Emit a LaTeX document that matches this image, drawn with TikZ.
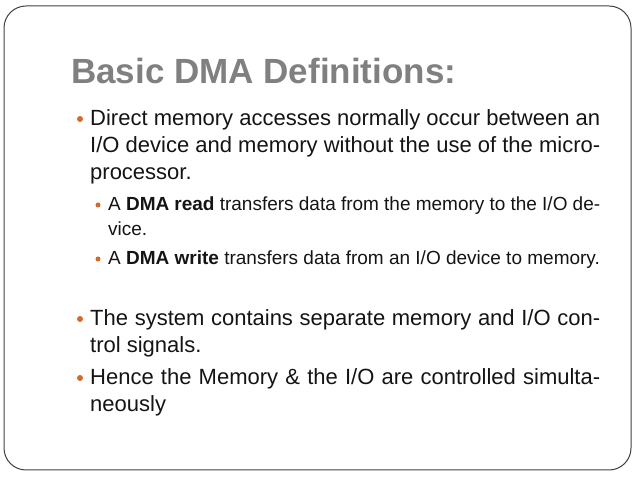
\documentclass[tikz,border=0pt]{standalone}
\usepackage{fontspec}
\setmainfont{Liberation Sans}
\definecolor{bul}{RGB}{214,104,44}
\definecolor{ttl}{RGB}{128,128,128}
\definecolor{txt}{RGB}{20,20,20}
\newcommand\nohyph{\hyphenpenalty=10000\relax\exhyphenpenalty=10000\relax}
\begin{document}
\begin{tikzpicture}[x=1pt,y=-1pt,
  mainp/.style={anchor=base west,inner sep=0pt,text width=510pt,align=justify,font=\fontsize{22}{27}\selectfont,text=txt},
  subp/.style={anchor=base west,inner sep=0pt,text width=492pt,align=justify,font=\fontsize{19}{25}\selectfont,text=txt},
  dotm/.style={circle,fill=bul,inner sep=0pt,minimum size=6pt},
  dots/.style={circle,fill=bul,inner sep=0pt,minimum size=5pt}]
\useasboundingbox (0,0) rectangle (638,478);
\draw[line width=1pt,color=black!75,rounded corners=22pt] (4,6) rectangle (631,470);
\node[anchor=base west,inner sep=0pt,text=ttl,font=\fontsize{35}{40}\selectfont\bfseries] (title) at (71,84) {Basic DMA Definitions:};
\node[mainp] (p1) at (90,126) {\nohyph Direct memory accesses normally occur between an I/O device and memory without the use of the microprocessor.};
\node[dotm] (b1) at (80,119) {};
\node[subp] (s1) at (108,211) {\nohyph A \textbf{DMA read} transfers data from the memory to the I/O device.};
\node[dots] (b2) at (98,205) {};
\node[subp] (s2) at (108,265) {\nohyph A \textbf{DMA write} transfers data from an I/O device to memory.};
\node[dots] (b3) at (98,259) {};
\node[mainp] (p2) at (90,326) {\nohyph The system contains separate memory and I/O control signals.};
\node[dotm] (b4) at (80,319) {};
\node[mainp] (p3) at (90,385) {\nohyph Hence the Memory \& the I/O are controlled simultaneously};
\node[dotm] (b5) at (80,378) {};
\end{tikzpicture}
\end{document}
